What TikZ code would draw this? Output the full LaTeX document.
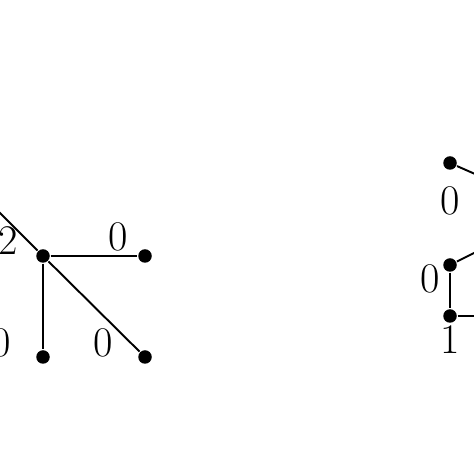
\documentclass[tikz,border=0pt]{standalone}
\usepackage{xcolor}
\usepackage{tikz}
\usetikzlibrary{positioning}

\begin{document}
\begin{tikzpicture}[vert/.style={circle, fill=black, inner sep=0pt, minimum size=0.27cm},
    num/.style={inner sep=0pt, font=\fontsize{24}{28}\selectfont},
    line width=1.1pt]
\clip (0,0) rectangle (9.48,9.48);

% left tree
\node[vert] (tl_root) at (0.86,4.36) {};
\node[vert] (tl_right) at (2.90,4.36) {};
\node[vert] (tl_down) at (0.86,2.34) {};
\node[vert] (tl_diag) at (2.90,2.34) {};
\coordinate (tl_up) at (-0.80,6.02);

\draw (tl_up) -- (tl_root);
\draw (tl_root) -- (tl_diag);
\draw (tl_root) -- (tl_right);
\draw (tl_root) -- (tl_down);

\node[num] (lab_root) at (0.16,4.66) {2};
\node[num] (lab_right) at (2.36,4.74) {0};
\node[num] (lab_diag) at (2.06,2.62) {0};
\node[num] (lab_far) at (0.03,2.62) {0};

% right tree
\node[vert] (tr_top) at (9.00,6.22) {};
\node[vert] (tr_mid) at (9.00,4.18) {};
\node[vert] (tr_low) at (9.00,3.16) {};
\coordinate (tr_top_out) at (10.00,5.78);
\coordinate (tr_mid_out) at (10.00,4.68);
\coordinate (tr_low_out) at (10.00,3.16);

\draw (tr_top) -- (tr_top_out);
\draw (tr_mid) -- (tr_mid_out);
\draw (tr_low) -- (tr_low_out);
\draw (tr_mid) -- (tr_low);

\node[num] (lab_top) at (9.00,5.46) {0};
\node[num] (lab_mid) at (8.60,3.90) {0};
\node[num] (lab_low) at (9.00,2.68) {1};

\end{tikzpicture}
\end{document}
